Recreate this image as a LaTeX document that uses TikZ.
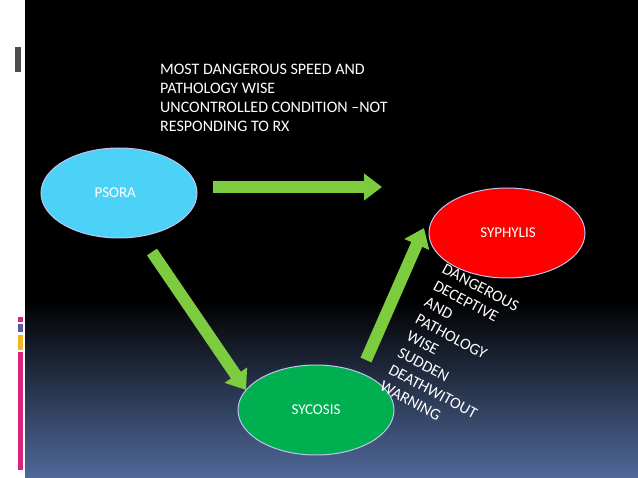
\documentclass[tikz,border=0pt]{standalone}
\usepackage{fontspec}
\setmainfont{Carlito}
\usetikzlibrary{arrows.meta,shapes.geometric}
\definecolor{bgblue}{HTML}{50699A}
\definecolor{cy}{HTML}{4DD2F7}
\definecolor{gr}{HTML}{00B050}
\definecolor{ar}{HTML}{7DCB3E}
\definecolor{pk}{HTML}{D9237D}
\definecolor{yl}{HTML}{F5B321}
\begin{document}
\begin{tikzpicture}[x=1pt,y=-1pt,
  blob/.style={ellipse,draw=gray!40!blue!30,line width=1pt,minimum width=156pt,minimum height=90pt},
  lab/.style={text=white,font=\fontsize{15}{17}\selectfont},
  garrow/.style={draw=ar,line width=12pt,-{Triangle[width=26pt,length=18pt]}},
  wtext/.style={text=white,font=\fontsize{16}{19}\selectfont,align=left,inner sep=0pt}]
\useasboundingbox (0,0) rectangle (638,478);
\fill[white] (0,0) rectangle (638,478);
\fill[black] (25,0) rectangle (638,478);
\shade[top color=black,bottom color=bgblue] (25,300) rectangle (638,478);
\fill[gray!60!black] (15,47) rectangle (21,72);
\fill[pk] (18,317) rectangle (23,322);
\fill[gray!70!blue] (18,324) rectangle (23,332);
\fill[yl] (18,335) rectangle (23,350);
\fill[pk] (18,352) rectangle (23,470);
\node[wtext,anchor=north west] (top) at (160,64) {MOST DANGEROUS SPEED AND\\PATHOLOGY WISE\\UNCONTROLLED CONDITION --NOT\\RESPONDING TO RX};
\node[blob,fill=cy] (psora) at (119,193) {};
\node[lab,anchor=west] (pl) at (91,193) {PSORA};
\node[blob,fill=red] (syph) at (507,233) {};
\node[lab] (sl) at (508,233) {SYPHYLIS};
\node[blob,fill=gr] (syc) at (316,410) {};
\node[lab] (yl) at (316,410) {SYCOSIS};
\coordinate (a1s) at (213,187); \coordinate (a1e) at (382,187);
\coordinate (a2s) at (152,252); \coordinate (a2e) at (246,390);
\coordinate (a3s) at (366,360); \coordinate (a3e) at (424,228);
\draw[garrow] (a1s) -- (a1e);
\draw[garrow] (a2s) -- (a2e);
\draw[garrow] (a3s) -- (a3e);
\node[wtext,anchor=north west,rotate=-28] (rt) at (446,263) {DANGEROUS\\DECEPTIVE\\AND\\PATHOLOGY\\WISE\\SUDDEN\\DEATHWITOUT\\WARNING};
\end{tikzpicture}
\end{document}
